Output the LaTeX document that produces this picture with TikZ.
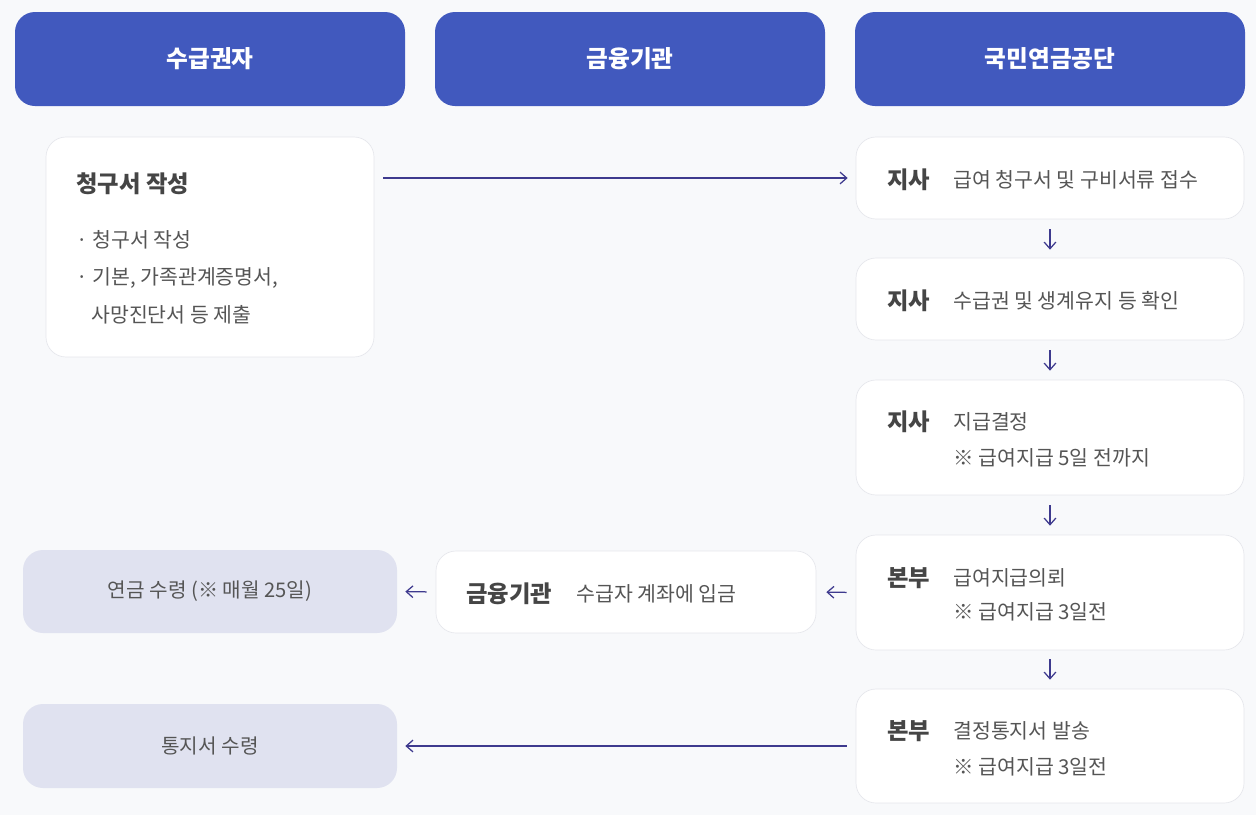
\documentclass[tikz,border=0pt]{standalone}
\usepackage{fontspec}
\setmainfont{Noto Sans CJK KR}
\usetikzlibrary{arrows.meta}
\definecolor{pagebg}{HTML}{F8F9FB}
\definecolor{headblue}{HTML}{4159BE}
\definecolor{boxline}{HTML}{E6E7EC}
\definecolor{greybox}{HTML}{E0E2F0}
\definecolor{flowline}{HTML}{3E3A8E}
\definecolor{titletext}{HTML}{454545}
\definecolor{bodytext}{HTML}{555555}
\tikzset{
    head-box/.style = {fill=headblue, rounded corners=12pt, minimum width=234pt, minimum height=56.4pt, text=white, font=\fontsize{14.2}{16}\selectfont\bfseries},
    step-box/.style = {draw=boxline, fill=white, thin, rounded corners=12pt, minimum width=232.8pt},
    result-box/.style = {fill=greybox, rounded corners=12pt, minimum width=224.4pt, text=bodytext, font=\fontsize{12.1}{14}\selectfont},
    step-title/.style = {anchor=west, inner sep=0pt, text=titletext, font=\fontsize{14}{16}\selectfont\bfseries},
    step-text/.style = {anchor=west, inner sep=0pt, text=bodytext, font=\fontsize{12.3}{14}\selectfont},
    flow/.style = {draw=flowline, line width=0.75pt, -{Straight Barb[length=4pt,width=7pt]}},
}

\begin{document}
\begin{tikzpicture}[x=0.6pt, y=-0.6pt]
\fill[pagebg] (0,0) rectangle (1256,815);
\useasboundingbox (0,0) rectangle (1256,815);

% column heads
\node [head-box] (head-user) at (210,59) {수급권자};
\node [head-box] (head-bank) at (630,59) {금융기관};
\node [head-box] (head-nps) at (1050,59) {국민연금공단};

% claimant
\node [step-box, minimum width=196.8pt, minimum height=132pt] (claim) at (210,247) {};
\node [step-title] (claim-title) at (76,184) {청구서 작성};
\node [step-text] (claim-l1) at (76,240) {· 청구서 작성};
\node [step-text] (claim-l2) at (76,278) {· 기본, 가족관계증명서,};
\node [step-text] (claim-l3) at (91,315) {사망진단서 등 제출};

% pension service
\node [step-box, minimum height=49.2pt] (receive) at (1050,178) {};
\node [step-title] at (887,180) {지사};
\node [step-text] at (953,180) {급여 청구서 및 구비서류 접수};

\node [step-box, minimum height=49.2pt] (check) at (1050,299) {};
\node [step-title] at (887,301) {지사};
\node [step-text] at (953,301) {수급권 및 생계유지 등 확인};

\node [step-box, minimum height=69pt] (decide) at (1050,437.5) {};
\node [step-title] at (887,422) {지사};
\node [step-text] at (953,422) {지급결정};
\node [step-text] at (953,458) {※ 급여지급 5일 전까지};

\node [step-box, minimum height=69pt] (request) at (1050,592.5) {};
\node [step-title] at (887,578) {본부};
\node [step-text] at (953,578) {급여지급의뢰};
\node [step-text] at (953,612) {※ 급여지급 3일전};

\node [step-box, minimum height=68.4pt] (notify) at (1050,746) {};
\node [step-title] at (887,731) {본부};
\node [step-text] at (953,731) {결정통지서 발송};
\node [step-text] at (953,767) {※ 급여지급 3일전};

% bank
\node [step-box, minimum width=228pt, minimum height=49.2pt] (deposit) at (626,592) {};
\node [step-title] at (466,594) {금융기관};
\node [step-text] at (576,594) {수급자 계좌에 입금};

% results
\node [result-box, minimum height=49.8pt] (pension) at (210,591.5) {연금 수령 (※ 매월 25일)};
\node [result-box, minimum height=50.4pt] (letter) at (210,746) {통지서 수령};

% arrows
\draw [flow, shorten <=5.4pt, shorten >=4.8pt] (claim.east |- receive.west) -- (receive.west);
\draw [flow, shorten <=6pt, shorten >=4.8pt] (receive.south) -- (check.north);
\draw [flow, shorten <=6pt, shorten >=5.4pt] (check.south) -- (decide.north);
\draw [flow, shorten <=6pt, shorten >=5.4pt] (decide.south) -- (request.north);
\draw [flow, shorten <=5.4pt, shorten >=5.4pt] (request.south) -- (notify.north);
\draw [flow, shorten <=5.4pt, shorten >=6pt] (request.west) -- (deposit.east);
\draw [flow, shorten <=5.4pt, shorten >=4.8pt] (deposit.west) -- (pension.east);
\draw [flow, shorten <=5.4pt, shorten >=4.8pt] (notify.west) -- (letter.east);
\end{tikzpicture}
\end{document}
